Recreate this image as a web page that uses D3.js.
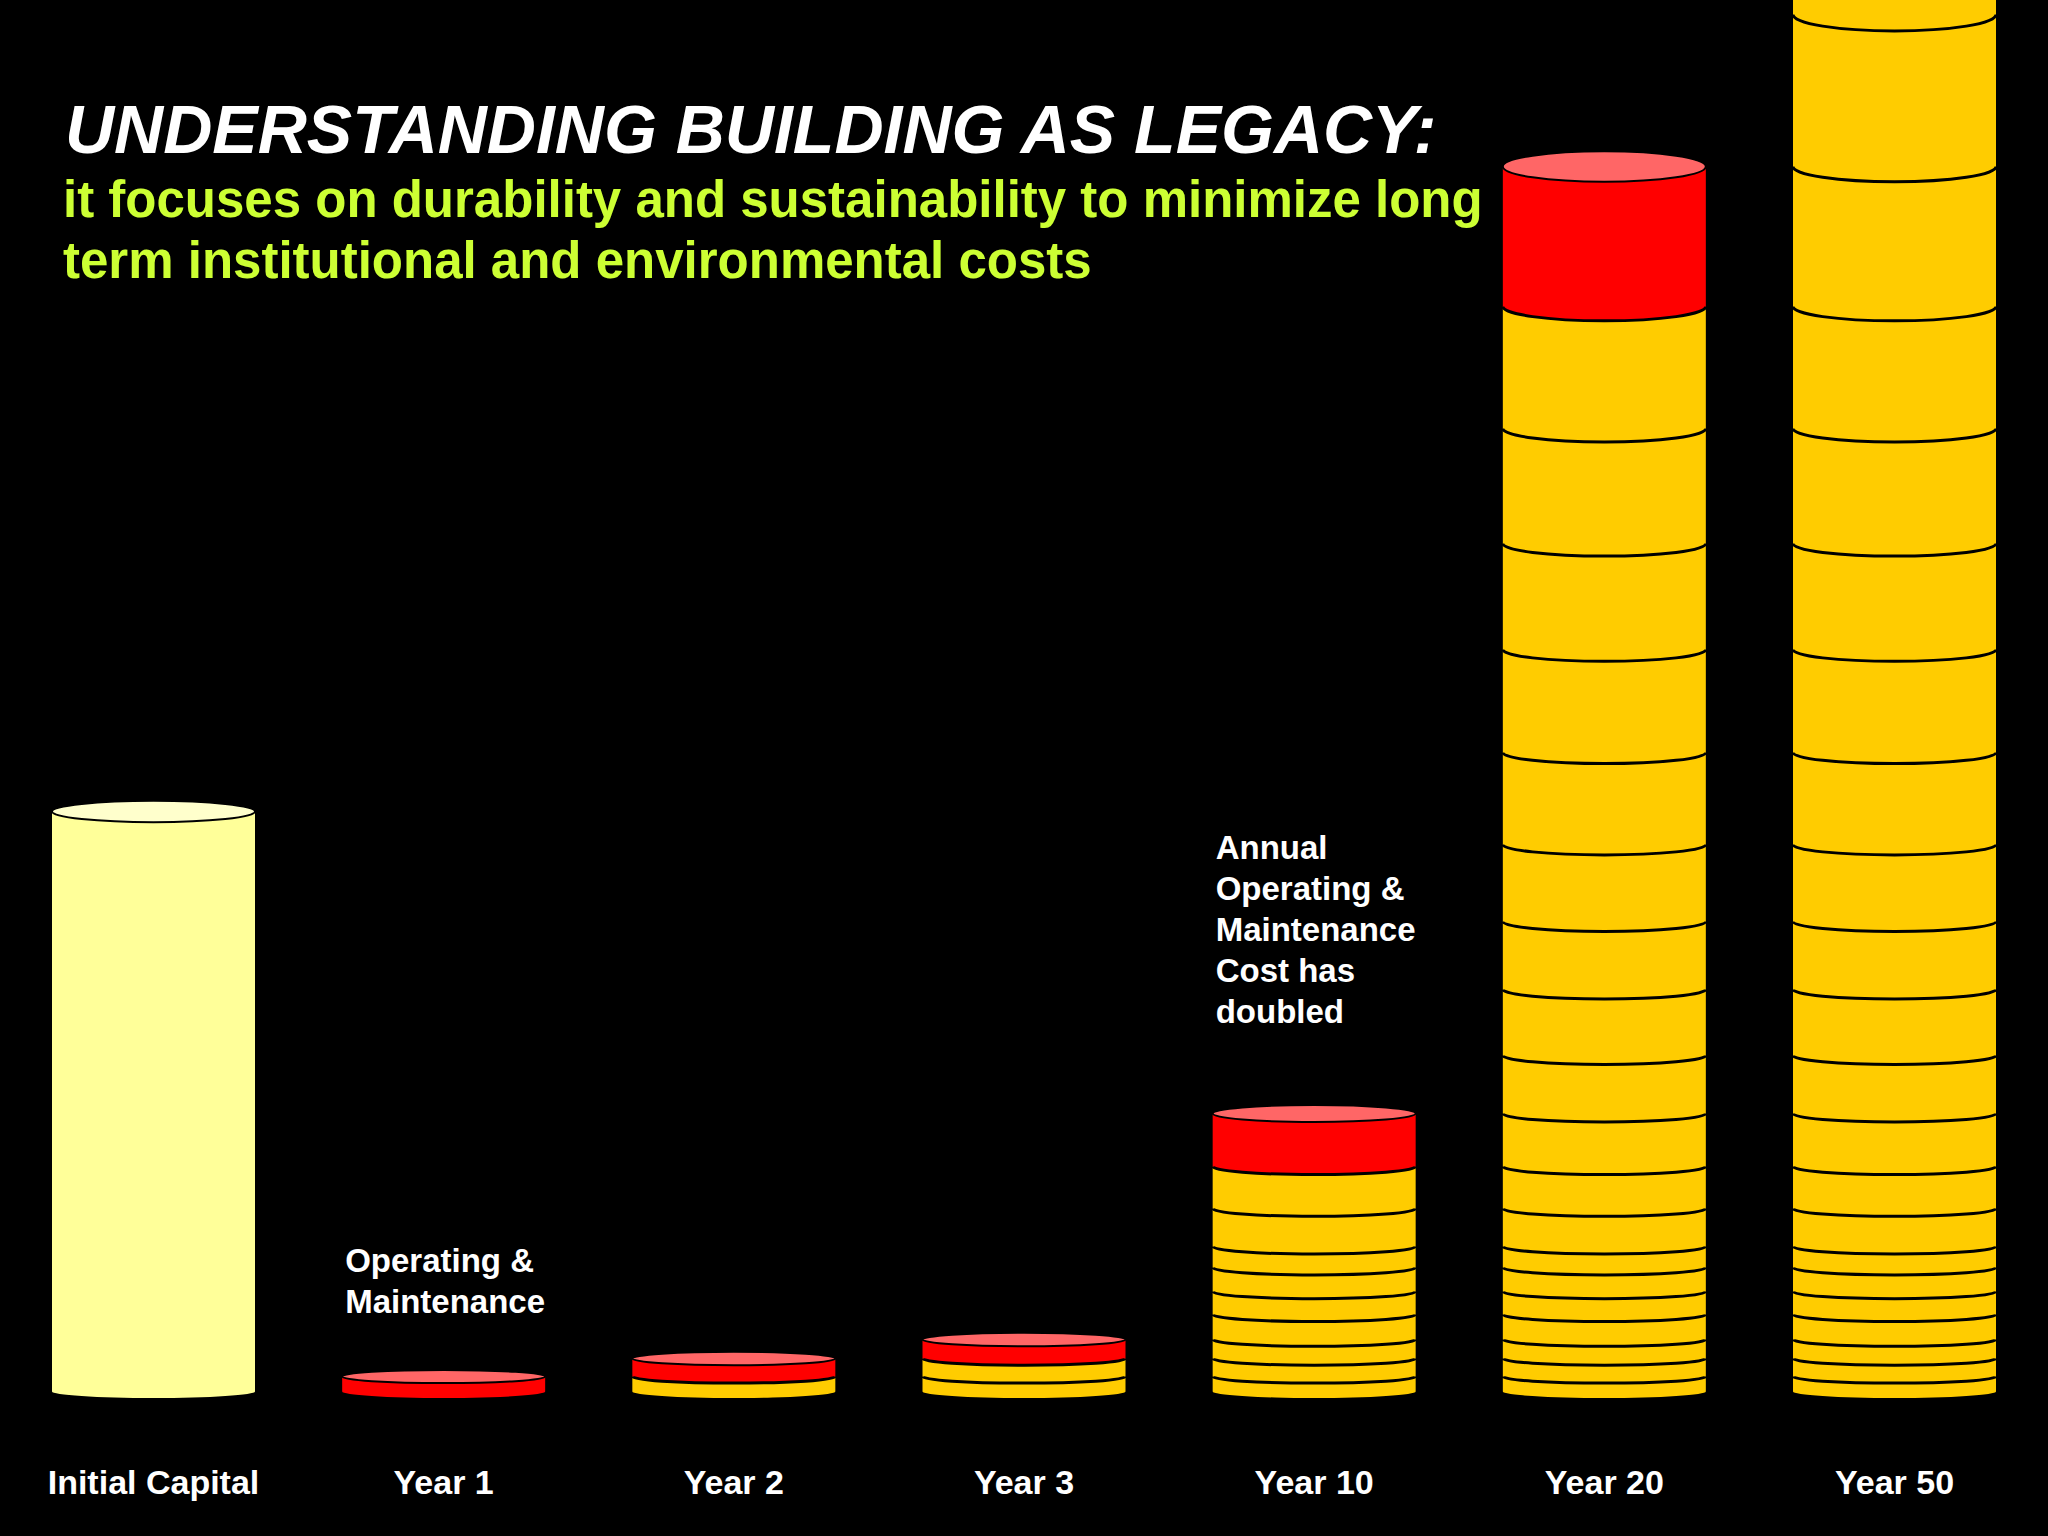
<!DOCTYPE html>
<html>
<head>
<meta charset="utf-8">
<script src="https://cdn.jsdelivr.net/npm/d3@7"></script>
<style>
  body { margin: 0; background: #000; }
  text { font-family: "Liberation Sans", Arial, sans-serif; font-weight: bold; }
</style>
</head>
<body>
<script>
// categories along the bottom
const categories = ['Initial Capital', 'Year 1', 'Year 2', 'Year 3', 'Year 10', 'Year 20', 'Year 50'];
// how many years of O&M are stacked in each column (0 = capital column)
const yearsStacked = [0, 1, 2, 3, 10, 20, 50];
// initial capital cost (cost units)
const initialCapital = 58.0;
// annual operating & maintenance cost, year 1..50 (cost units)
// years 23+ run above the top of the slide and are rough estimates
const annualOM = [
  1.5, 1.8, 1.9, 2.5, 2.3, 2.4, 2.1, 3.8, 4.2, 5.3,
  5.8, 6.6, 6.8, 7.7, 9.2, 10.3, 10.6, 11.5, 12.2, 14.0,
  15.2, 16.0, 16.8, 17.5, 18.1, 18.9, 19.6, 20.2, 21.0, 21.7,
  22.5, 23.1, 23.9, 24.6, 25.2, 26.0, 26.8, 27.5, 28.1, 28.9,
  29.6, 30.4, 31.1, 31.8, 32.6, 33.3, 34.1, 34.8, 35.6, 36.3
];
const titleText = 'UNDERSTANDING BUILDING AS LEGACY:';
const subtitleLines = [
  'it focuses on durability and sustainability to minimize long',
  'term institutional and environmental costs'
];
const noteYear1 = ['Operating &', 'Maintenance'];
const noteYear10 = ['Annual', 'Operating &', 'Maintenance', 'Cost has', 'doubled'];

const W = 2048, H = 1536;
const colW = 203;
const rx = colW / 2;

const colors = {
  capital: '#ffff99', capitalTop: '#ffffcc',
  past: '#ffcc00', current: '#ff0000', currentTop: '#ff6666'
};

const svg = d3.select('body').append('svg')
  .attr('width', W)
  .attr('height', H);

svg.append('rect').attr('width', W).attr('height', H).attr('fill', '#000');

const x = d3.scalePoint().domain(categories).range([153.5, 1894.5]);
const y = d3.scaleLinear().domain([0, 140]).range([1391.5, -8.5]);

// flatter ellipses near the floor, rounder higher up (fake perspective)
const ry = yy => 6.5 + 0.0072 * (y(0) - yy);

// build the disc stacks
const columns = categories.map((c, i) => {
  const n = yearsStacked[i];
  if (n === 0) {
    return { label: c, discs: [{ y0: 0, y1: initialCapital, kind: 'capital' }] };
  }
  const cum = Array.from(d3.cumsum(annualOM.slice(0, n)));
  const discs = cum.map((v, k) => ({
    y0: k === 0 ? 0 : cum[k - 1],
    y1: v,
    kind: k === n - 1 ? 'current' : 'past'
  }));
  return { label: c, discs };
});

const col = svg.selectAll('.column')
  .data(columns)
  .join('g')
  .attr('class', 'column')
  .attr('transform', d => `translate(${x(d.label)},0)`);

col.each(function drawColumn(d) {
  const g = d3.select(this);
  const xl = -rx, xr = rx;

  d.discs.forEach(disc => {
    const top = y(disc.y1), bot = y(disc.y0);
    g.append('path')
      .attr('d', `M${xl},${top} L${xl},${bot} A${rx},${ry(bot)} 0 0 0 ${xr},${bot} L${xr},${top} Z`)
      .attr('fill', colors[disc.kind]);

    if (disc.y0 > 0) {
      g.append('path')
        .attr('d', `M${xl},${bot} A${rx},${ry(bot)} 0 0 0 ${xr},${bot}`)
        .attr('fill', 'none')
        .attr('stroke', '#000')
        .attr('stroke-width', 3);
    }
  });

  // top lid
  const last = d.discs[d.discs.length - 1];
  const yLid = y(last.y1);
  g.append('ellipse')
    .attr('cx', 0)
    .attr('cy', yLid)
    .attr('rx', rx)
    .attr('ry', ry(yLid))
    .attr('fill', colors[last.kind + 'Top'])
    .attr('stroke', '#000')
    .attr('stroke-width', 2);
});

// category labels
svg.selectAll('.cat-label')
  .data(categories)
  .join('text')
  .attr('class', 'cat-label')
  .attr('x', d => x(d))
  .attr('y', 1494)
  .attr('text-anchor', 'middle')
  .attr('fill', '#fff')
  .style('font-size', '34px')
  .text(d => d);

// annotations
function note(lines, cat, yFirst) {
  const t = svg.append('text')
    .attr('fill', '#fff')
    .style('font-size', '33px');
  t.selectAll('tspan')
    .data(lines)
    .join('tspan')
    .attr('x', x(cat) - rx + 3)
    .attr('y', (d, i) => yFirst + i * 41)
    .text(d => d);
}
note(noteYear1, 'Year 1', 1272);
note(noteYear10, 'Year 10', 859);

// title block
svg.append('text')
  .attr('x', 65)
  .attr('y', 153)
  .attr('fill', '#fff')
  .style('font-size', '68px')
  .style('font-style', 'italic')
  .text(titleText);

svg.selectAll('.subtitle')
  .data(subtitleLines)
  .join('text')
  .attr('class', 'subtitle')
  .attr('x', 63)
  .attr('y', (d, i) => 217 + i * 61)
  .attr('fill', '#ccff33')
  .style('font-size', '51px')
  .text(d => d);
</script>
</body>
</html>
